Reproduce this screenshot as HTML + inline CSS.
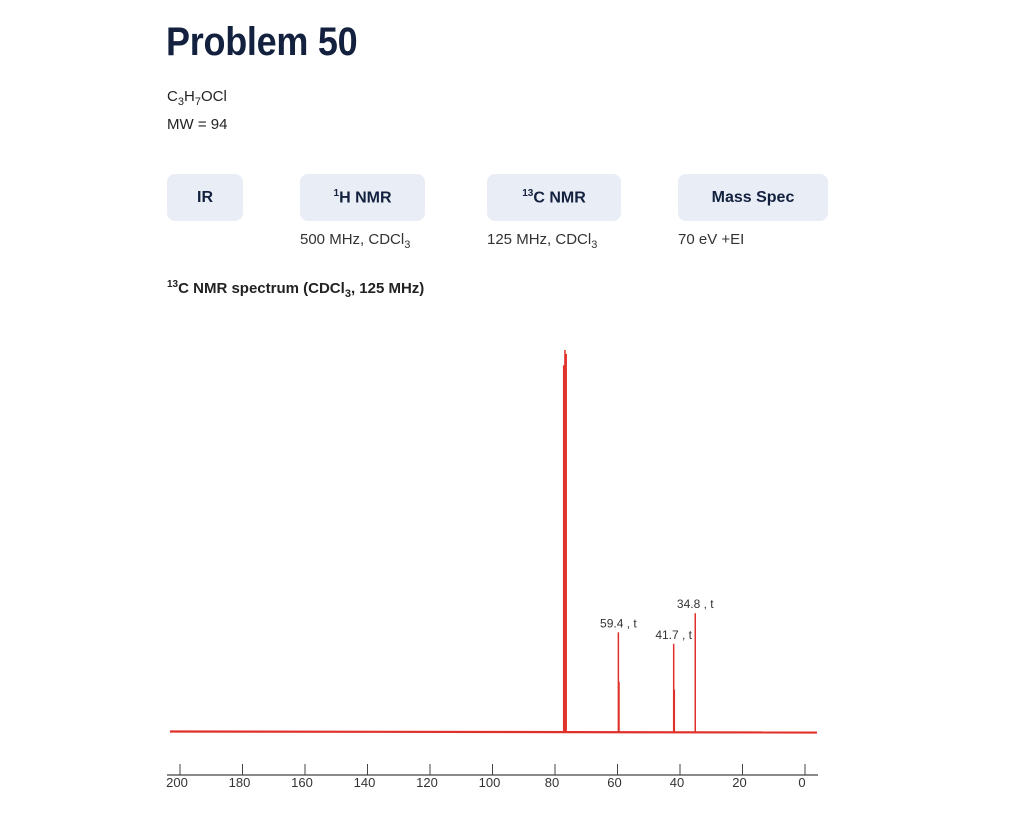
<!DOCTYPE html>
<html><head><meta charset="utf-8"><style>
body{margin:0;width:1024px;height:824px;background:#fff;font-family:"Liberation Sans",sans-serif;color:#222;position:relative;overflow:hidden}
.a{position:absolute}
h1{position:absolute;left:166px;top:20px;margin:0;font-family:"Liberation Sans Narrow","Liberation Sans",sans-serif;font-stretch:condensed;font-size:40px;font-weight:bold;color:#13213f;letter-spacing:-0.3px;transform:scaleX(0.9);transform-origin:left}
.btn{position:absolute;top:174px;height:47px;background:#e9edf5;border-radius:8px;font-weight:bold;font-size:16px;color:#13213f;display:flex;align-items:center;justify-content:center}
.sub{position:absolute;top:231px;font-size:15px;color:#333}
sup{font-size:10px}
</style></head><body>
<h1>Problem 50</h1>
<div class="a" style="left:167px;top:88px;font-size:15px">C<sub style="font-size:11px">3</sub>H<sub style="font-size:11px">7</sub>OCl</div>
<div class="a" style="left:167px;top:116px;font-size:15px">MW = 94</div>
<div class="btn" style="left:167px;width:76px">IR</div>
<div class="btn" style="left:300px;width:125px"><span><sup>1</sup>H NMR</span></div>
<div class="btn" style="left:487px;width:134px"><span><sup>13</sup>C NMR</span></div>
<div class="btn" style="left:678px;width:150px">Mass Spec</div>
<div class="sub" style="left:300px">500 MHz, CDCl<sub style="font-size:11px">3</sub></div>
<div class="sub" style="left:487px">125 MHz, CDCl<sub style="font-size:11px">3</sub></div>
<div class="sub" style="left:678px">70 eV +EI</div>
<div class="a" style="left:167px;top:279px;font-size:15px;font-weight:bold;color:#222"><sup>13</sup>C NMR spectrum (CDCl<sub style="font-size:11px">3</sub>, 125 MHz)</div>
<svg id="c" class="a" style="left:0;top:0" width="1024" height="824"></svg>
<script>
const tickLabels=[200,180,160,140,120,100,80,60,40,20,0];
const peakPpm=[76.9,76.5,76.1,59.4,59.2,41.7,41.5,34.8];
const peakHeight=[0.96,1.0,0.99,0.26,0.13,0.23,0.11,0.31];
const labelTexts=["59.4 , t","41.7 , t","34.8 , t"];
const labelPpm=[59.4,41.7,34.8];
const labelHeight=[0.26,0.23,0.31];
const NS="http://www.w3.org/2000/svg";
const svg=document.getElementById('c');
const x=p=>804-3.125*p;
const base=731.5, top0=350;
const y=h=>base-h*(base-top0);
function el(t,a){const e=document.createElementNS(NS,t);for(const k in a)e.setAttribute(k,a[k]);svg.appendChild(e);return e;}
const bl=el('line',{x1:170,y1:base,x2:817,y2:base+1,stroke:'#e0302a','stroke-width':2.2});


peakPpm.forEach((p,i)=>{
 const l=el('line',{x1:x(p),x2:x(p),y1:base,y2:y(peakHeight[i]),stroke:'#e0302a','stroke-width':1.5});
 
 
});
labelTexts.forEach((t,i)=>{
 const tx=el('text',{x:x(labelPpm[i]),y:y(labelHeight[i])-5,'text-anchor':'middle','font-size':12,'font-family':'Liberation Sans Narrow, Liberation Sans, sans-serif',fill:'#333'});
 tx.textContent=t;
 
 
});
const ax=el('line',{x1:167,x2:818,y1:775,y2:775,stroke:'#444','stroke-width':1.2});


tickLabels.forEach(v=>{
 const t=el('line',{x1:x(v)+1,x2:x(v)+1,y1:764,y2:775,stroke:'#444','stroke-width':1});
 
 
 const tx=el('text',{x:x(v)-2,y:787,'text-anchor':'middle','font-size':13,'font-family':'Liberation Sans Narrow, Liberation Sans, sans-serif',fill:'#333'});
 tx.textContent=v;
 
 
});
</script>
</body></html>
